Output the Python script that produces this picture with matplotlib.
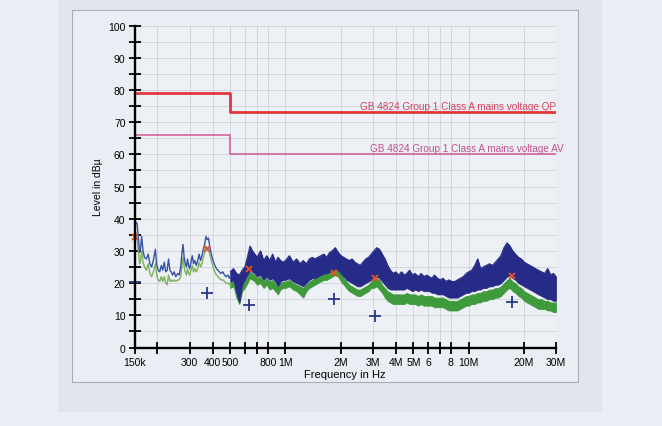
import numpy as np
import matplotlib
matplotlib.use("Agg")
import matplotlib.pyplot as plt
from matplotlib.patches import Rectangle

plt.rcParams['font.family'] = ['Liberation Sans', 'DejaVu Sans']

# limit lines, frequency in MHz, level in dBuV
limit_f = [0.15, 0.5, 0.5, 30.0]
qp_limit = [79, 79, 73, 73]
av_limit = [66, 66, 60, 60]

# low frequency part of the scan (150k - 500k), frequency in kHz
lf_khz = [150, 152, 155, 158, 160, 162, 164, 167, 170, 174,
          178, 182, 186, 190, 195, 198, 202, 206, 210, 214,
          218, 222, 226, 230, 234, 238, 242, 247, 252, 258,
          263, 268, 272, 276, 280, 284, 288, 292, 296, 300,
          305, 310, 315, 320, 326, 332, 338, 344, 350, 356,
          362, 368, 374, 380, 386, 392, 398, 405, 412, 420,
          428, 436, 445, 455, 465, 475, 485, 495, 500]
lf_peak = [35, 39, 38.5, 33, 29.5, 31, 34.5, 30, 28, 27.5,
           29, 26, 25, 27, 30.5, 26, 24, 23.5, 25.5, 24,
           26.5, 23.5, 24, 27.5, 24, 23.5, 22.5, 23.5, 22, 23,
           22.5, 25, 29, 32, 28, 26, 25, 27.5, 25.5, 24.5,
           26.5, 28.5, 26, 27, 25.5, 27, 29, 27, 28.5, 30.5,
           32, 34.5, 33.5, 34, 31.5, 29.5, 28, 26.5, 25.5, 24.5,
           24, 23.5, 23, 23.5, 22.5, 22, 22.5, 21.5, 22]
lf_avg = [35, 36, 34, 29, 26, 27, 30, 26.5, 25, 24,
          26, 23, 22, 23.5, 26, 22.5, 21, 20.5, 22, 20.5,
          22, 20, 19.5, 22.5, 20.5, 21, 20.5, 21, 20.5, 21,
          21, 22, 25, 28, 25, 23.5, 22.5, 24.5, 23, 22.5,
          24, 25.5, 23.5, 24.5, 23.5, 24.5, 26.5, 25, 26, 28,
          29.5, 31.5, 31, 31, 29, 27.5, 26, 24.5, 23.5, 22.5,
          22, 21.5, 21, 21, 20.5, 20, 20, 19.5, 20]

# dense part of the scan (500k - 30M), frequency in MHz, band edges in dBuV
hf_mhz = [0.50, 0.52, 0.54, 0.56, 0.58, 0.60, 0.62, 0.64, 0.66, 0.68,
          0.70, 0.73, 0.76, 0.79, 0.82, 0.85, 0.88, 0.91, 0.94, 0.97,
          1.00, 1.05, 1.10, 1.15, 1.20, 1.25, 1.30, 1.35, 1.40, 1.45,
          1.50, 1.56, 1.62, 1.68, 1.74, 1.80, 1.87, 1.94, 2.01, 2.08,
          2.15, 2.23, 2.31, 2.39, 2.47, 2.56, 2.65, 2.74, 2.84, 2.94,
          3.04, 3.15, 3.26, 3.37, 3.49, 3.61, 3.74, 3.87, 4.00, 4.15,
          4.30, 4.45, 4.60, 4.76, 4.93, 5.10, 5.30, 5.50, 5.70, 5.90,
          6.10, 6.30, 6.50, 6.75, 7.00, 7.25, 7.50, 7.80, 8.10, 8.40,
          8.70, 9.00, 9.35, 9.70, 10.0, 10.4, 10.8, 11.2, 11.6, 12.0,
          12.5, 13.0, 13.5, 14.0, 14.5, 15.0, 15.6, 16.2, 16.8, 17.4,
          18.0, 18.7, 19.4, 20.1, 20.8, 21.6, 22.4, 23.2, 24.0, 25.0,
          26.0, 27.0, 28.0, 29.0, 30.0]
peak_hi = [23.5, 24.5, 23, 22.5, 24, 25, 28, 31.5, 30, 29,
           28, 30, 27, 28.5, 27, 29, 26.5, 28, 27, 26.5,
           27, 28.5, 26.5, 27.5, 26, 27, 26, 27.5, 28, 27.5,
           28, 28.5, 29, 28, 29.5, 30, 31, 29.5, 28.5, 28,
           27.5, 27, 27.5, 26.5, 26, 25.5, 26.5, 27.5, 28, 29,
           30, 31, 30.5, 29, 27.5, 25.5, 24, 23, 23.5, 22.5,
           23.5, 22.5, 23, 24, 22.5, 23, 22, 23, 22, 22.5,
           22, 21.5, 22.5, 21.5, 21, 21.5, 20.5, 21, 20.5, 20.5,
           21, 21.5, 22, 23, 23.5, 24, 25.5, 27.5, 24.5, 25,
           25.5, 26, 25.5, 26.5, 27.5, 28.5, 31, 32.5, 31.5, 30,
           29, 28, 27.5, 26.5, 26, 25.5, 25, 24.5, 24, 23.5,
           23, 24.5, 22.5, 23, 22]
peak_lo = [20.5, 21, 17, 14, 19.5, 21, 22.5, 24, 23.5, 23,
           22, 22.5, 21, 22, 21, 21.5, 20.5, 19, 20.5, 21,
           21, 21.5, 20.5, 20, 19.5, 19, 20, 21, 21.5, 21.5,
           22, 22.5, 23, 23, 23.5, 24, 24.5, 24, 23, 22,
           21, 20.5, 20, 19.5, 19, 19, 19.5, 20, 20.5, 21,
           21.5, 22, 21.5, 20.5, 19.5, 18.5, 18, 18, 18, 18,
           18, 18, 18.5, 18, 17.5, 18, 17.5, 18, 17.5, 17.5,
           17.5, 17, 17, 16.5, 16.5, 16.5, 16, 15.5, 15.5, 15.5,
           15.5, 16, 16.5, 17, 17, 17.5, 17.5, 18, 18, 18.5,
           18.5, 19, 19, 19.5, 19.5, 20, 21, 22, 22.5, 21.5,
           21, 20, 19.5, 19, 18.5, 18, 17.5, 17, 16.5, 16,
           15.5, 15, 15, 14.5, 14.5]
avg_hi = [20.5, 21, 18, 15, 19.5, 20.5, 22, 23.5, 23, 22.5,
          21.5, 22, 20.5, 21.5, 20.5, 21, 20, 18.5, 20, 20.5,
          20.5, 21, 20, 19.5, 19, 18.5, 19.5, 20.5, 21, 21.5,
          22, 22.5, 23, 23, 23.5, 24, 24.5, 24, 23, 21.5,
          20.5, 19.5, 19, 18.5, 18, 18, 18.5, 19, 19.5, 20.5,
          21, 21.5, 21, 19.5, 18.5, 17.5, 17, 16.5, 16.5, 16.5,
          16.5, 16.5, 17, 16.5, 16.5, 16.5, 16, 16.5, 16, 16,
          16, 16, 15.5, 15.5, 15.5, 15.5, 15, 14.5, 14.5, 14.5,
          14.5, 15, 15.5, 16, 16, 16.5, 16.5, 17, 17, 17.5,
          17.5, 18, 18, 18.5, 18.5, 19, 20, 21, 21.5, 20.5,
          20, 19, 18.5, 17.5, 17, 16.5, 16, 15.5, 15, 15,
          14.5, 14.5, 14, 14, 14]
avg_lo = [18.5, 19, 15.5, 13.5, 17.5, 18.5, 20, 21.5, 21, 20.5,
          19.5, 20, 18.5, 19.5, 18, 18.5, 17.5, 16.5, 18, 18.5,
          18.5, 19, 18, 17.5, 16.5, 15.5, 17.5, 18.5, 19, 19.5,
          20, 20.5, 21, 21, 21.5, 22, 22.5, 22, 20.5, 19.5,
          18.5, 17.5, 17, 16.5, 16, 16, 16.5, 17, 17.5, 18.5,
          18.5, 19, 18, 17, 15.5, 14.5, 14, 13.5, 13.5, 13.5,
          13.5, 13.5, 14, 13.5, 13.5, 13.5, 13, 13.5, 13, 13,
          13, 13, 12.5, 12.5, 12.5, 12.5, 12, 11.5, 11.5, 11.5,
          11.5, 12, 12.5, 13, 13, 13.5, 13.5, 14, 14, 14.5,
          14.5, 15, 15, 15.5, 15.5, 16, 17, 18, 18.5, 17.5,
          17, 16, 15.5, 14.5, 14, 13.5, 13, 12.5, 12, 12,
          12, 11.5, 11.5, 11, 11]

# final measurements
final_f = [0.15, 0.371, 0.63, 1.85, 3.1, 17.2]
final_qp = [34.2, 30.5, 24.5, 23.0, 21.5, 22.3]
final_av = [20.2, 17.0, 13.2, 15.2, 9.8, 14.0]

x_ticks = [0.15, 0.2, 0.3, 0.4, 0.5, 0.6, 0.7, 0.8, 1, 2, 3, 4, 5, 6, 7, 8, 10, 20, 30]
x_labels = ['150k', '', '300', '400', '500', '', '', '800', '1M', '2M', '3M', '4M', '5M',
            '6', '', '8', '10M', '20M', '30M']

fig = plt.figure(figsize=(6.62, 4.27), dpi=100, facecolor='#eceef5')
# paper sheet and the report frame behind the chart
fig.patches.append(Rectangle((0.0876, 0.0328), 0.8218, 0.9672, transform=fig.transFigure,
                             facecolor='#e2e5ee', edgecolor='none', zorder=-20))
fig.patches.append(Rectangle((0.1088, 0.103), 0.7644, 0.8712, transform=fig.transFigure,
                             facecolor='#eaedf3', edgecolor='#a9adb6', lw=0.8, zorder=-10))
ax = fig.add_axes([0.2032, 0.1838, 0.6367, 0.7541])
ax.set_facecolor('#edf0f5')

ax.set_xscale('log')
ax.set_xlim(0.15, 30)
ax.set_ylim(0, 100)

lf_f = np.array(lf_khz) / 1000.0
ax.fill_between(hf_mhz, avg_lo, avg_hi, color='#3f9a3c', lw=0.6, zorder=3)
ax.plot(lf_f, lf_avg, color='#7cb25c', lw=1.0, zorder=3)
ax.fill_between(hf_mhz, peak_lo, peak_hi, color='#272b88', lw=0.6, zorder=4)
ax.plot(hf_mhz, peak_hi, color='#272b88', lw=0.8, zorder=4)
ax.plot(lf_f, lf_peak, color='#3452a6', lw=1.0, zorder=4)

ax.plot(limit_f, qp_limit, color='#e0383a', lw=2.0, zorder=5)
ax.plot(limit_f, av_limit, color='#cf5a94', lw=1.1, zorder=5)
ax.text(30, 73.4, 'GB 4824 Group 1 Class A mains voltage QP', color='#d24460',
        fontsize=7.2, ha='right', va='bottom', zorder=6)
ax.text(33, 60.4, 'GB 4824 Group 1 Class A mains voltage AV', color='#c2508e',
        fontsize=7.2, ha='right', va='bottom', zorder=6, clip_on=False)

ax.plot(final_f, final_qp, 'x', color='#e8502a', ms=5, mew=1.3, zorder=7, clip_on=False)
ax.plot(final_f, final_av, '+', color='#2a3888', ms=8, mew=1.3, zorder=7, clip_on=False)

ax.set_xticks(x_ticks)
ax.set_xticklabels(x_labels)
ax.xaxis.set_minor_locator(matplotlib.ticker.NullLocator())
ax.set_yticks(range(0, 101, 10))
ax.set_yticks(range(5, 100, 10), minor=True)
ax.tick_params(axis='both', which='major', direction='inout', length=9, width=1.3,
               labelsize=7.5, pad=2)
ax.tick_params(axis='y', which='minor', direction='inout', length=8, width=1.3)

ax.grid(True, which='both', color='#cdd1d9', lw=0.6)
for s in ['top', 'right']:
    ax.spines[s].set_visible(False)
for s in ['left', 'bottom']:
    ax.spines[s].set_linewidth(1.7)
    ax.spines[s].set_zorder(8)

ax.set_xlabel('Frequency in Hz', fontsize=8, labelpad=2)
ax.set_ylabel('Level in dBµ', fontsize=7.5, labelpad=4)

fig.savefig('out.png', dpi=100, facecolor=fig.get_facecolor())
